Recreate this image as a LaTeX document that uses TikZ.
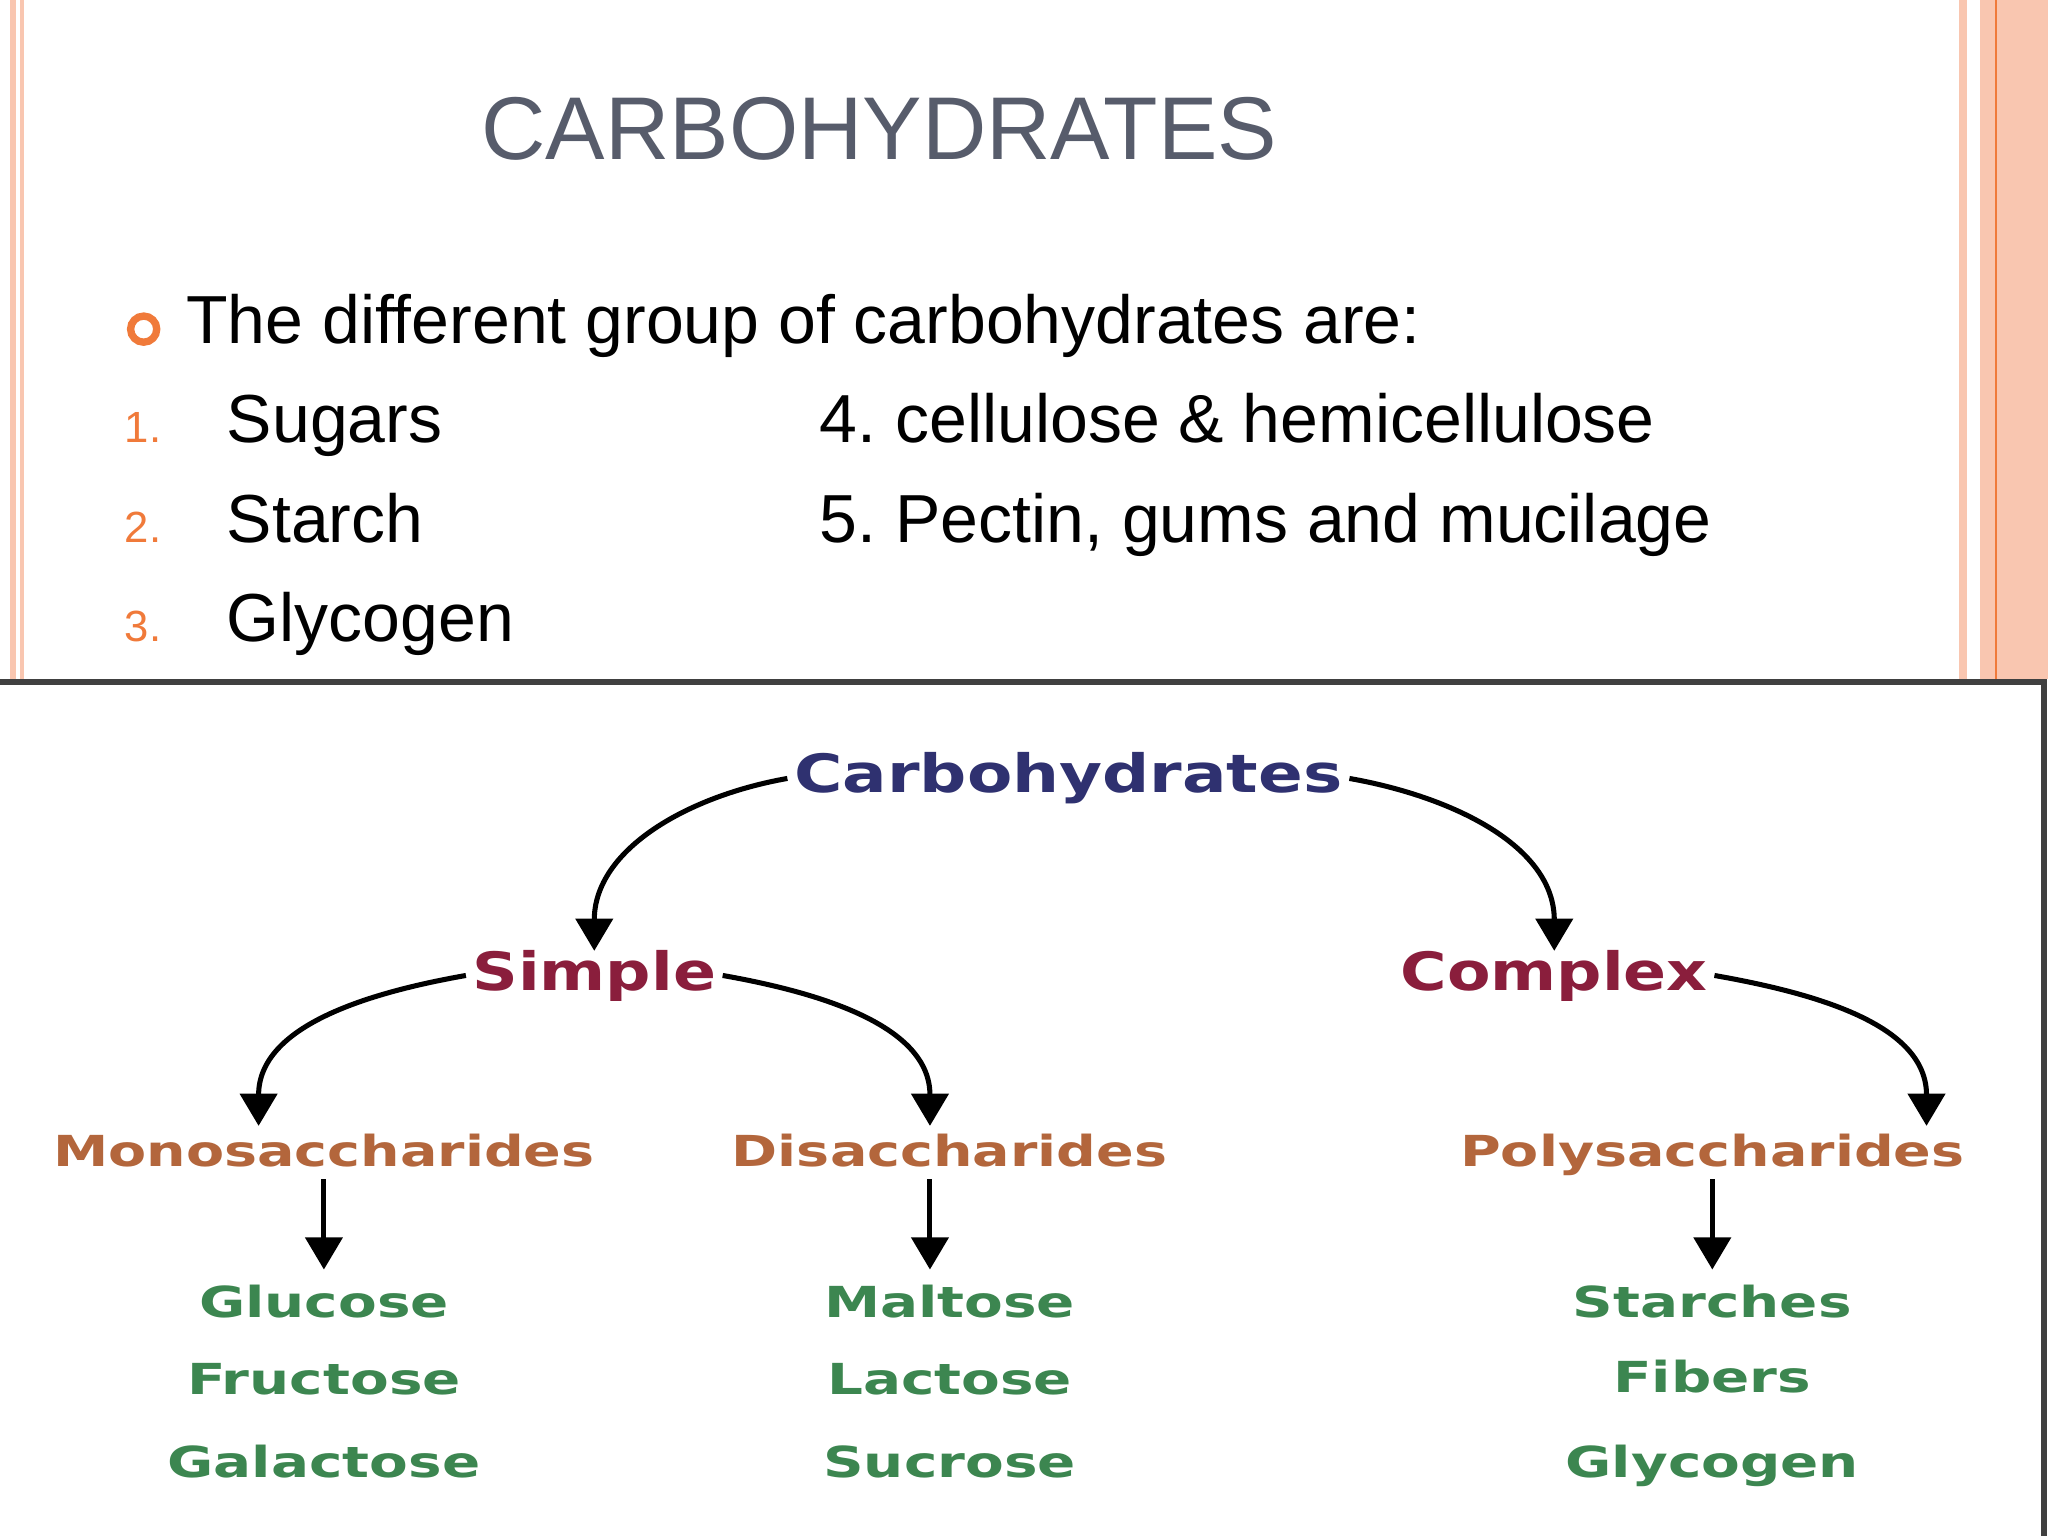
\documentclass[tikz,border=0pt]{standalone}
\usepackage{fontspec}
\setmainfont{Liberation Sans}
\newfontfamily\dfont{DejaVu Sans}
\usetikzlibrary{arrows.meta}
\frenchspacing
\definecolor{peach}{HTML}{F9C6B0}
\definecolor{porange}{HTML}{F07A3A}
\definecolor{tgray}{HTML}{575C6B}
\definecolor{cnavy}{HTML}{2F3170}
\definecolor{cred}{HTML}{8A1E3C}
\definecolor{cbrown}{HTML}{B3663C}
\definecolor{cgreen}{HTML}{3C8650}
\tikzset{
 lvl0/.style={font=\dfont\bfseries\fontsize{11.5}{12}\selectfont,text=cnavy,inner sep=1pt,anchor=base,xscale=1.25},
 lvl1/.style={font=\dfont\bfseries\fontsize{11.5}{12}\selectfont,text=cred,inner sep=1pt,anchor=base,xscale=1.2},
 lvl2/.style={font=\dfont\bfseries\fontsize{9.3}{10}\selectfont,text=cbrown,inner sep=1pt,anchor=base,xscale=1.3},
 lvl3/.style={font=\dfont\bfseries\fontsize{9.3}{10}\selectfont,text=cgreen,inner sep=1pt,anchor=base,xscale=1.32},
 carrow/.style={-{Triangle[length=7pt,width=8pt]},line width=1.1pt,black},
 body/.style={font=\fontsize{14.8}{16}\selectfont,anchor=base west,inner sep=0pt},
 num/.style={font=\fontsize{9.5}{10}\selectfont,text=porange,anchor=base west,inner sep=0pt}
}
\begin{document}
\begin{tikzpicture}[x=0.01cm,y=-0.01cm]
\useasboundingbox (0,0) rectangle (1568,1176);
\fill[white] (0,0) rectangle (1568,1176);
% borders
\fill[peach] (8,0) rectangle (12,520);
\fill[peach] (15,0) rectangle (18,520);
\fill[peach] (1500,0) rectangle (1506,520);
\fill[peach] (1516,0) rectangle (1568,520);
\draw[porange,line width=0.5pt] (1528,0) -- (1528,520);
% title
\node[font=\fontsize{19.4}{21}\selectfont,text=tgray,anchor=base west,inner sep=0pt] (title) at (368,122) {CARBOHYDRATES};
\node[draw=porange,circle,line width=1.6pt,minimum size=0.2cm,inner sep=0pt] (bul) at (110,252) {};
\node[body] (intro) at (142,263) {The different group of carbohydrates are:};
\node[num] (n1) at (95,339) {1.};
\node[num] (n2) at (95,415) {2.};
\node[num] (n3) at (95,491) {3.};
\node[body] (s1) at (173,339) {Sugars};
\node[body] (s2) at (173,415) {Starch};
\node[body] (s3) at (173,491) {Glycogen};
\node[body] (s4) at (627,339) {4. cellulose \& hemicellulose};
\node[body] (s5) at (627,415) {5. Pectin, gums and mucilage};
% diagram frame
\fill[white] (0,522) rectangle (1565,1176);
\draw[black!75,line width=1.2pt] (0,522) -- (1565,522) -- (1565,1176);
% nodes
\node[lvl0] (carb) at (818,607) {Carbohydrates};
\node[lvl1] (simp) at (455,758) {Simple};
\node[lvl1] (comp) at (1190,758) {Complex};
\node[lvl2] (mono) at (248,893) {Monosaccharides};
\node[lvl2] (di) at (727,893) {Disaccharides};
\node[lvl2] (poly) at (1311,893) {Polysaccharides};
\node[lvl3] (glu) at (248,1009) {Glucose};
\node[lvl3] (fru) at (248,1068) {Fructose};
\node[lvl3] (gal) at (248,1131) {Galactose};
\node[lvl3] (mal) at (727,1009) {Maltose};
\node[lvl3] (lac) at (727,1068) {Lactose};
\node[lvl3] (suc) at (727,1131) {Sucrose};
\node[lvl3] (sta) at (1311,1009) {Starches};
\node[lvl3] (fib) at (1311,1066) {Fibers};
\node[lvl3] (gly) at (1311,1131) {Glycogen};
% arrows
\draw[carrow] (carb.west) to[out=190,in=90] (455,728);
\draw[carrow] (carb.east) to[out=-10,in=90] (1190,728);
\draw[carrow] (simp.west) to[out=190,in=90] (198,862);
\draw[carrow] (simp.east) to[out=-10,in=90] (712,862);
\draw[carrow] (comp.east) to[out=-10,in=90] (1475,862);
\draw[carrow] (248,903) -- (248,972);
\draw[carrow] (712,903) -- (712,972);
\draw[carrow] (1311,903) -- (1311,972);
\end{tikzpicture}
\end{document}
